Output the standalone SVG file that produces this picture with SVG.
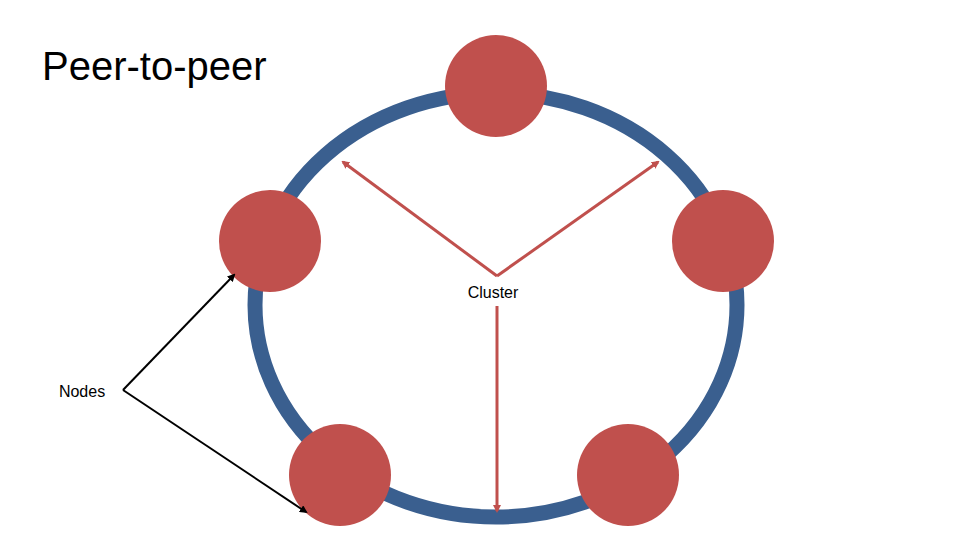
<svg xmlns="http://www.w3.org/2000/svg" width="960" height="540" viewBox="0 0 960 540">
<style>
.node{fill:#c0504d}
.t{font-family:"Liberation Sans",Arial,sans-serif;fill:#000}
.ra{stroke:#c0504d;stroke-width:3;fill:none;marker-end:url(#rh)}
.ba{stroke:#000;stroke-width:2;fill:none;marker-end:url(#bh)}
</style>
<defs>
<marker id="rh" markerWidth="8" markerHeight="8" refX="6" refY="4" orient="auto" markerUnits="userSpaceOnUse"><path d="M0,0 L8,4 L0,8 z" fill="#c0504d"/></marker>
<marker id="bh" markerWidth="8" markerHeight="8" refX="6" refY="4" orient="auto" markerUnits="userSpaceOnUse"><path d="M0,0 L8,4 L0,8 z" fill="#000"/></marker>
</defs>
<rect width="960" height="540" fill="#fff"/>
<text class="t" x="42" y="80" font-size="40">Peer-to-peer</text>
<g id="cluster-ring"><ellipse cx="496" cy="305" rx="241" ry="212" fill="none" stroke="#3a5f8f" stroke-width="15"/></g>
<g id="node-top"><circle class="node" cx="496" cy="86" r="51"/></g>
<g id="node-left"><circle class="node" cx="270" cy="241" r="51"/></g>
<g id="node-right"><circle class="node" cx="723" cy="241" r="51"/></g>
<g id="node-bl"><circle class="node" cx="340" cy="475" r="51"/></g>
<g id="node-br"><circle class="node" cx="628" cy="475" r="51"/></g>
<g id="connectors">
<path class="ra" d="M497,276 L343,162"/>
<path class="ra" d="M497,276 L658,162"/>
<path class="ra" d="M497,306 L497,511"/>
<path class="ba" d="M123,390 L234,275"/>
<path class="ba" d="M123,390 L306,512"/>
</g>
<text class="t" x="493" y="298" font-size="16" text-anchor="middle">Cluster</text>
<text class="t" x="82" y="397" font-size="16" text-anchor="middle">Nodes</text>
</svg>
